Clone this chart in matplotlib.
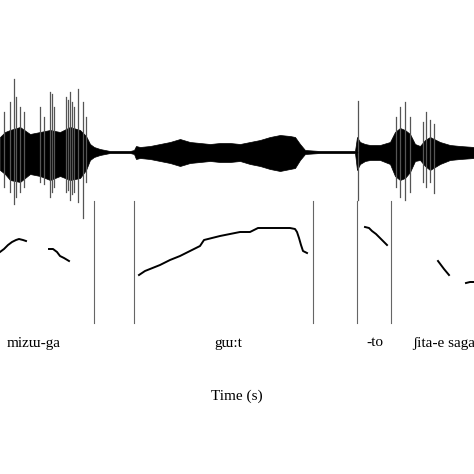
import matplotlib
matplotlib.use("Agg")
import matplotlib.pyplot as plt
import numpy as np

# waveform envelope (time in px-units, half amplitude)
env_t = [0,5,10,20,30,40,50,60,70,80,86,90,94,100,110,130,134,136,140,150,160,170,180,190,200,210,220,230,240,250,260,270,280,290,295,300,305,320,355,357,360,365,370,380,390,395,400,405,410,415,420,425,430,440,450,460,474]
env_a = [15,20,22,25,18,20,22,20,25,22,16,8,5,3,1,1,2,6,5,6,8,10,13,10,9,8,9,9,8,10,12,15,17,16,15,8,2,1,1,15,10,8,7,7,10,20,24,22,18,8,6,12,15,10,7,6,5]
env_b = [18,22,28,30,22,24,28,24,28,26,18,8,5,3,1,1,2,7,6,7,9,11,14,11,10,9,10,10,9,12,14,17,19,17,16,8,2,1,1,18,12,9,8,8,12,24,28,26,20,9,8,14,18,12,8,7,6]
# gray spikes: time, top, bottom
spk_t = [4,10,14,16,20,24,40,44,50,52,54,66,68,70,72,74,78,83,86,358,396,400,405,410,423,426,430,434]
spk_up = [40,50,73,55,45,40,45,35,60,58,45,55,52,60,50,45,63,50,35,51,35,45,50,35,30,40,32,28]
spk_dn = [35,40,52,45,40,35,30,32,45,40,35,40,38,48,42,40,50,66,30,48,35,45,48,40,30,35,30,41]

# boundaries
bounds = [94,134,313,357,391]

# pitch contours
p1_t = [0,4,8,12,16,19,23,26]; p1_v = [252,249,245,242,240,239,240,241]
p2_t = [49,53,57,60,64,69]; p2_v = [249,249,252,256,258,261]
p3_t = [139,145,150,160,170,180,190,200,204,212,220,230,240,250,254,258,270,280,290,295,297,299,301,303,307]
p3_v = [275,271,269,265,260,256,251,246,240,238,236,234,232,232,230,228,228,228,228,229,232,238,245,251,253]
p4_t = [365,369,372,376,380,384,387]; p4_v = [227,228,231,234,238,242,245]
p5_t = [438,441,444,449]; p5_v = [261,265,269,275]
p6_t = [466,470,474]; p6_v = [283,282,282]

labels = ["mizɯ-ga","gɯ:t","-to","ʃita-e sagat"]
label_x = [34,228,375,446]

fig = plt.figure(figsize=(4.74,4.74), dpi=100)
ax = fig.add_axes([0,0,1,1])
ax.set_xlim(0,474); ax.set_ylim(474,0); ax.axis("off")
c = 152
for t,u,d in zip(spk_t,spk_up,spk_dn):
    ax.plot([t,t],[c-u,c+d],color="#555555",lw=0.9)
ea = np.array(env_a); eb = np.array(env_b)
ax.fill_between(env_t, c-ea, c+eb, color="black", lw=0.5)
ax.plot([94,357],[c,c],color="black",lw=1)
for b in bounds:
    ax.plot([b,b],[201,323],color="#666666",lw=0.8)
for t,v in [(p1_t,p1_v),(p2_t,p2_v),(p3_t,p3_v),(p4_t,p4_v),(p5_t,p5_v),(p6_t,p6_v)]:
    ax.plot(t,v,color="black",lw=1.4)
for s,x in zip(labels,label_x):
    ax.text(x,343,s,ha="center",va="center",fontsize=11,family="Liberation Serif")
ax.text(237,396,"Time (s)",ha="center",va="center",fontsize=11,family="Liberation Serif")
fig.savefig("out.png",dpi=100)
